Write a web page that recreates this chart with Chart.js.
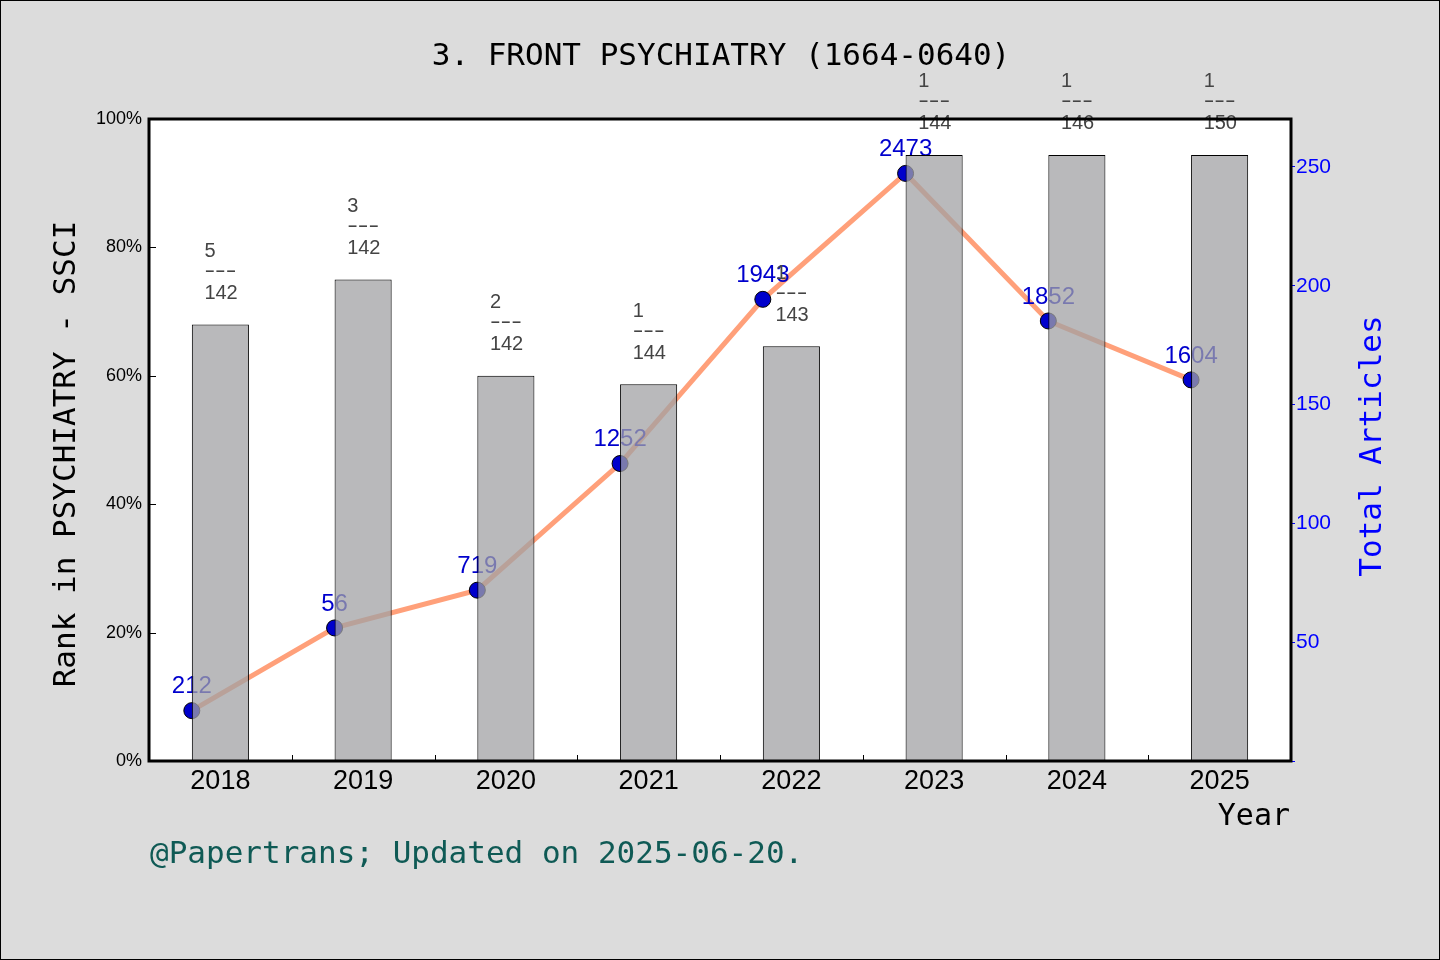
<!DOCTYPE html>
<html>
<head>
<meta charset="utf-8">
<script src="https://cdn.jsdelivr.net/npm/chart.js@4"></script>
<style>
  body { margin: 0; background: #dcdcdc; }
  #c { display: block; }
</style>
</head>
<body>
<canvas id="c" width="1440" height="960"></canvas>
<script>
const years = ['2018', '2019', '2020', '2021', '2022', '2023', '2024', '2025'];
const rankPct = [68, 75, 60, 58.7, 64.6, 94.4, 94.4, 94.4];
const rankNum = [5, 3, 2, 1, 1, 1, 1, 1];
const rankDen = [142, 142, 142, 144, 143, 144, 146, 150];
const articles = [21.2, 56, 71.9, 125.2, 194.3, 247.3, 185.2, 160.4];
const articleLabels = ['212', '56', '719', '1252', '1943', '2473', '1852', '1604'];
const leftTicks = [0, 20, 40, 60, 80, 100];
const rightTicks = [0, 50, 100, 150, 200, 250];

const mono = '"DejaVu Sans Mono", monospace';
const sans = '"Liberation Sans", Arial, sans-serif';

// bars and line share one hidden linear x axis; the line sits on each bar's left edge
const barPct = 0.4;
const barPoints = rankPct.map((v, i) => ({ x: i, y: v }));
const linePoints = articles.map((v, i) => ({ x: i - barPct / 2, y: v }));

const decor = {
  id: 'decor',
  beforeDraw(chart) {
    const ctx = chart.ctx, a = chart.chartArea;
    ctx.save();
    ctx.fillStyle = '#dcdcdc';
    ctx.fillRect(0, 0, chart.width, chart.height);
    ctx.fillStyle = '#ffffff';
    ctx.fillRect(a.left, a.top, a.right - a.left, a.bottom - a.top);
    ctx.strokeStyle = '#000';
    ctx.lineWidth = 1;
    ctx.strokeRect(0.5, 0.5, chart.width - 1, chart.height - 1);
    ctx.restore();
  },
  afterDatasetDraw(chart, args) {
    // labels for the article line, drawn before the bars cover them
    if (args.index !== 1) return;
    const ctx = chart.ctx;
    const meta = chart.getDatasetMeta(1);
    ctx.save();
    ctx.font = '24px ' + sans;
    ctx.fillStyle = '#0000cd';
    ctx.textAlign = 'center';
    ctx.textBaseline = 'middle';
    meta.data.forEach((pt, i) => {
      ctx.fillText(articleLabels[i], pt.x, pt.y - 24);
    });
    ctx.restore();
  },
  afterDatasetsDraw(chart) {
    const ctx = chart.ctx;
    const meta = chart.getDatasetMeta(0);
    ctx.save();
    ctx.font = '20px ' + sans;
    ctx.fillStyle = '#444';
    ctx.textAlign = 'left';
    ctx.textBaseline = 'middle';
    meta.data.forEach((bar, i) => {
      const x0 = bar.x - 16;
      ctx.fillText(String(rankNum[i]), x0, bar.y - 73);
      ctx.save();
      ctx.translate(x0, bar.y - 53);
      ctx.scale(1.6, 1);
      ctx.fillText('---', 0, 0);
      ctx.restore();
      ctx.fillText(String(rankDen[i]), x0, bar.y - 31);
    });
    ctx.restore();
  },
  afterDraw(chart) {
    const ctx = chart.ctx, a = chart.chartArea;
    const ys = chart.scales.y;
    ctx.save();
    // inward tick marks
    ctx.strokeStyle = '#000';
    ctx.lineWidth = 1;
    ctx.beginPath();
    const step = (a.right - a.left) / years.length;
    for (let i = 1; i < years.length; i++) {
      const px = Math.round(a.left + i * step) + 0.5;
      ctx.moveTo(px, a.bottom);
      ctx.lineTo(px, a.bottom - 6);
    }
    leftTicks.forEach(v => {
      const py = Math.round(ys.getPixelForValue(v)) + 0.5;
      ctx.moveTo(a.left, py);
      ctx.lineTo(a.left + 7, py);
    });
    ctx.stroke();
    // plot frame
    ctx.lineWidth = 3;
    ctx.strokeRect(a.left, a.top, a.right - a.left, a.bottom - a.top);

    // texts
    ctx.fillStyle = '#000';
    ctx.font = '31px ' + mono;
    ctx.textAlign = 'center';
    ctx.textBaseline = 'middle';
    ctx.fillText('3. FRONT PSYCHIATRY (1664-0640)', 721, 57);

    ctx.textAlign = 'right';
    ctx.font = '30px ' + mono;
    ctx.fillText('Year', 1290, 817);

    ctx.textAlign = 'left';
    ctx.font = '31px ' + mono;
    ctx.fillStyle = '#0f5a55';
    ctx.fillText('@Papertrans; Updated on 2025-06-20.', 150, 855);

    ctx.save();
    ctx.translate(67, 454);
    ctx.rotate(-Math.PI / 2);
    ctx.textAlign = 'center';
    ctx.fillStyle = '#000';
    ctx.fillText('Rank in PSYCHIATRY - SSCI', 0, 0);
    ctx.restore();

    ctx.save();
    ctx.translate(1373, 446);
    ctx.rotate(-Math.PI / 2);
    ctx.textAlign = 'center';
    ctx.fillStyle = '#0000ff';
    ctx.fillText('Total Articles', 0, 0);
    ctx.restore();

    ctx.restore();
  }
};

new Chart(document.getElementById('c'), {
  type: 'line',
  data: {
    labels: years,
    datasets: [{
      type: 'bar',
      label: 'Rank',
      data: barPoints,
      xAxisID: 'xl',
      yAxisID: 'y',
      backgroundColor: 'rgba(161, 162, 164, 0.75)',
      borderColor: '#000',
      borderWidth: 1,
      barPercentage: barPct,
      categoryPercentage: 1,
      order: 0
    }, {
      type: 'line',
      label: 'Total Articles',
      data: linePoints,
      xAxisID: 'xl',
      yAxisID: 'y1',
      borderColor: '#ffa07a',
      borderWidth: 5,
      pointRadius: 8,
      pointBackgroundColor: '#0000cc',
      pointBorderColor: '#000',
      pointBorderWidth: 1,
      tension: 0,
      clip: false,
      order: 1
    }]
  },
  options: {
    responsive: false,
    animation: false,
    layout: { padding: { top: 119, left: 0, right: 0, bottom: 0 } },
    plugins: {
      legend: { display: false },
      tooltip: { enabled: false }
    },
    scales: {
      x: {
        type: 'category',
        position: 'bottom',
        offset: true,
        border: { display: false },
        grid: { display: false, drawTicks: false },
        ticks: { color: '#000', font: { family: sans, size: 27 }, padding: 4, maxRotation: 0 },
        afterFit(s) { s.height = 199; }
      },
      xl: {
        type: 'linear',
        display: false,
        offset: false,
        min: -0.5,
        max: years.length - 0.5,
        afterBuildTicks(s) { s.ticks = years.map((_, i) => ({ value: i })); }
      },
      y: {
        position: 'left',
        min: 0,
        max: 100,
        border: { display: false },
        grid: { drawOnChartArea: false, drawTicks: false },
        afterBuildTicks(s) { s.ticks = leftTicks.map(v => ({ value: v })); },
        ticks: {
          color: '#000',
          font: { family: sans, size: 18 },
          padding: 7,
          callback: v => v + '%'
        },
        afterFit(s) { s.width = 149; }
      },
      y1: {
        position: 'right',
        min: 0,
        max: 270.2,
        border: { display: false },
        grid: { drawOnChartArea: false, drawTicks: true, tickLength: 4, color: '#0000ff' },
        afterBuildTicks(s) { s.ticks = rightTicks.map(v => ({ value: v })); },
        ticks: {
          color: '#0000ff',
          font: { family: sans, size: 21 },
          padding: 1,
          callback: v => (v === 0 ? '' : String(v))
        },
        afterFit(s) { s.width = 149; }
      }
    }
  },
  plugins: [decor]
});
</script>
</body>
</html>
